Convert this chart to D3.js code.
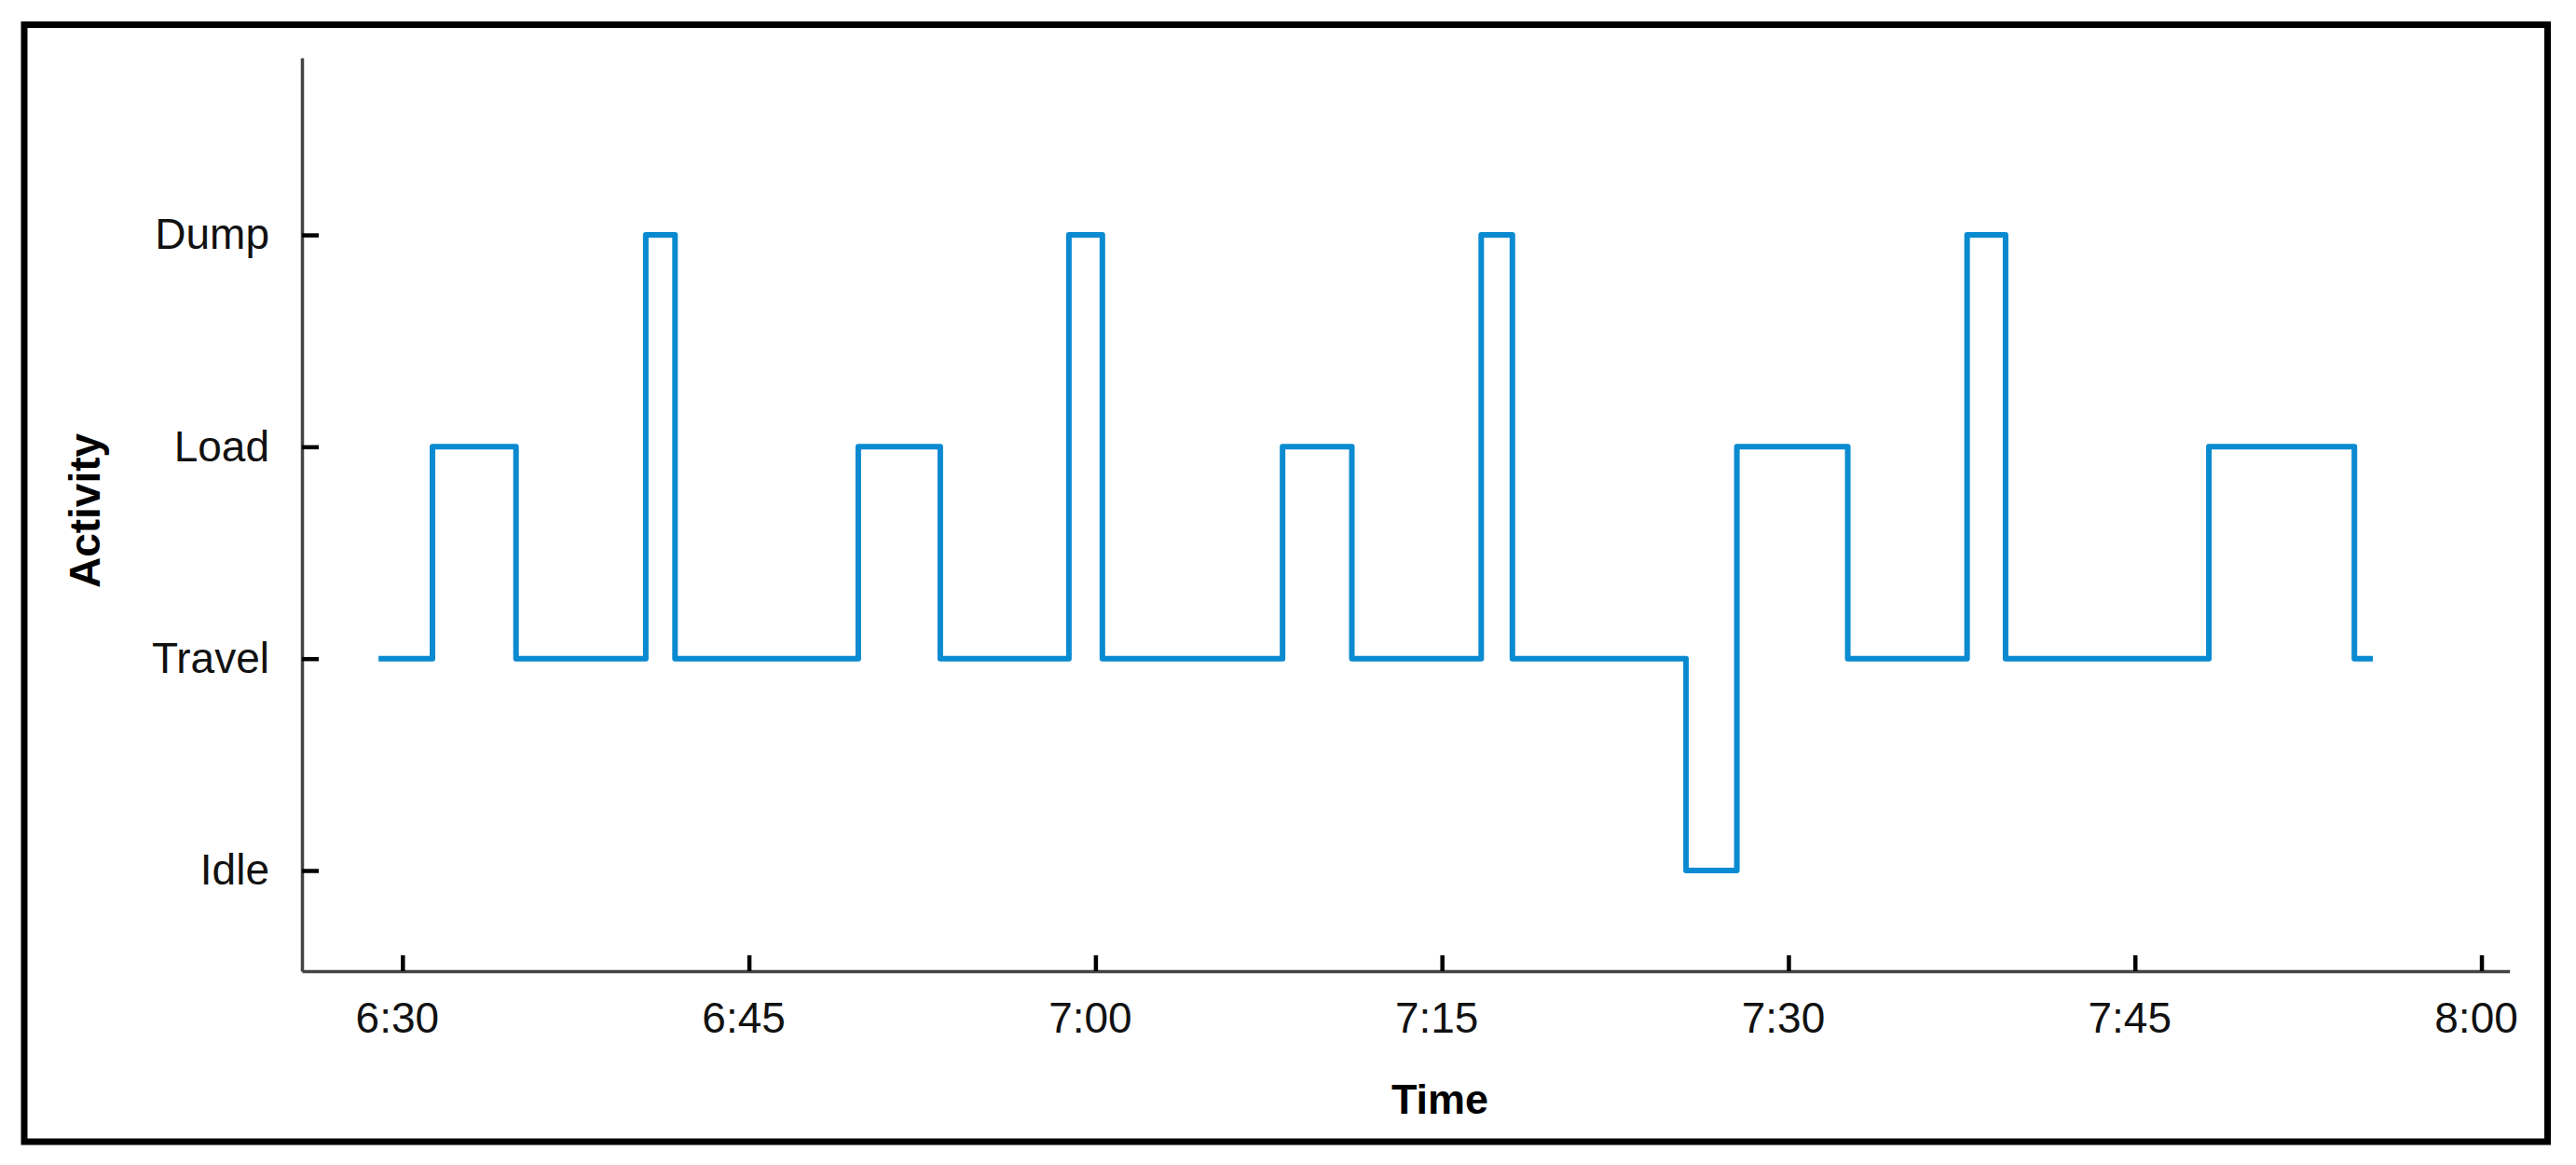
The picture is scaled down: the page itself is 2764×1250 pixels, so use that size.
<!DOCTYPE html>
<html>
<head>
<meta charset="utf-8">
<script src="https://cdn.jsdelivr.net/npm/d3@7"></script>
<style>
    body { margin: 0; background: #fff; }
    text { font-family: "Liberation Sans", Arial, sans-serif; }
</style>
</head>
<body>
<div id="chart"></div>
<script>
/*
    Activity categories (bottom to top)
*/
var activities = ["Idle", "Travel", "Load", "Dump"];

/*
    Times when the truck changes state, and the state it changes to.
    The last entry only closes the final step.
*/
var changeTimes = [
    "6:28:58", "6:31:18", "6:34:55", "6:40:32", "6:41:48",
    "6:49:44", "6:53:17", "6:58:51", "7:00:18", "7:08:06",
    "7:11:06", "7:16:42", "7:18:03", "7:25:34", "7:27:46",
    "7:32:34", "7:37:44", "7:39:24", "7:48:12", "7:54:30",
    "7:55:18"
];
var changeStates = [
    "Travel", "Load", "Travel", "Dump", "Travel",
    "Load", "Travel", "Dump", "Travel", "Load",
    "Travel", "Dump", "Travel", "Idle", "Load",
    "Travel", "Dump", "Travel", "Load", "Travel",
    "Travel"
];

var timeTicks = ["6:30", "6:45", "7:00", "7:15", "7:30", "7:45", "8:00"];

var width = 2764;
var height = 1250;

var svg = d3.select("#chart")
    .append("svg")
    .attr("width", width)
    .attr("height", height)

// outer frame
svg.append("rect")
    .attr("x", 26)
    .attr("y", 26.5)
    .attr("width", 2707.5)
    .attr("height", 1198.5)
    .attr("fill", "none")
    .attr("stroke", "#000")
    .attr("stroke-width", 7)

var parseTime = d3.timeParse("%H:%M:%S");
var parseTick = d3.timeParse("%H:%M");

var x = d3.scaleTime()
    .domain([parseTime("6:25:39"), parseTime("8:01:13")])
    .range([324, 2692.7])

var y = d3.scaleLinear()
    .domain([0.525, 4.836])
    .range([1042, 62])

var points = changeTimes.map(function (t, i) {
    return { time: parseTime(t), level: activities.indexOf(changeStates[i]) + 1 }
})

/*
    Axes: ticks point into the plot
*/
var xAxis = d3.axisBottom(x)
    .tickValues(timeTicks.map(function (t) { return parseTick(t) }))
    .tickFormat(d3.timeFormat("%-H:%M"))
    .tickSizeInner(-17)
    .tickSizeOuter(0)
    .tickPadding(33)

var yAxis = d3.axisLeft(y)
    .tickValues([1, 2, 3, 4])
    .tickFormat(function (d) { return activities[d - 1] })
    .tickSizeInner(-18)
    .tickSizeOuter(0)
    .tickPadding(35)

var gx = svg.append("g")
    .attr("transform", "translate(0,1042)")
    .call(xAxis)

var gy = svg.append("g")
    .attr("transform", "translate(324,0)")
    .call(yAxis)

svg.selectAll(".domain")
    .attr("stroke", "#444")
    .attr("stroke-width", 3.5)

svg.selectAll(".tick line")
    .attr("stroke", "#000")
    .attr("stroke-width", 4.5)

svg.selectAll(".tick text")
    .attr("font-size", 46)
    .attr("fill", "#111")
    .style("font-family", "'Liberation Sans', Arial, sans-serif")

gx.selectAll(".tick text").attr("dx", -6)

// axis titles
svg.append("text")
    .attr("x", 1545)
    .attr("y", 1195)
    .attr("text-anchor", "middle")
    .attr("font-size", 45)
    .attr("font-weight", "bold")
    .attr("fill", "#000")
    .text("Time")

svg.append("text")
    .attr("transform", "translate(107,548) rotate(-90)")
    .attr("text-anchor", "middle")
    .attr("font-size", 46)
    .attr("font-weight", "bold")
    .attr("fill", "#000")
    .text("Activity")

/*
    Step line of the activity
*/
var line = d3.line()
    .curve(d3.curveStepAfter)
    .x(function (d) { return x(d.time) })
    .y(function (d) { return y(d.level) })

svg.append("path")
    .datum(points)
    .attr("d", line)
    .attr("fill", "none")
    .attr("stroke", "#0a8ad0")
    .attr("stroke-width", 6)
    .attr("stroke-linejoin", "round")
</script>
</body>
</html>
